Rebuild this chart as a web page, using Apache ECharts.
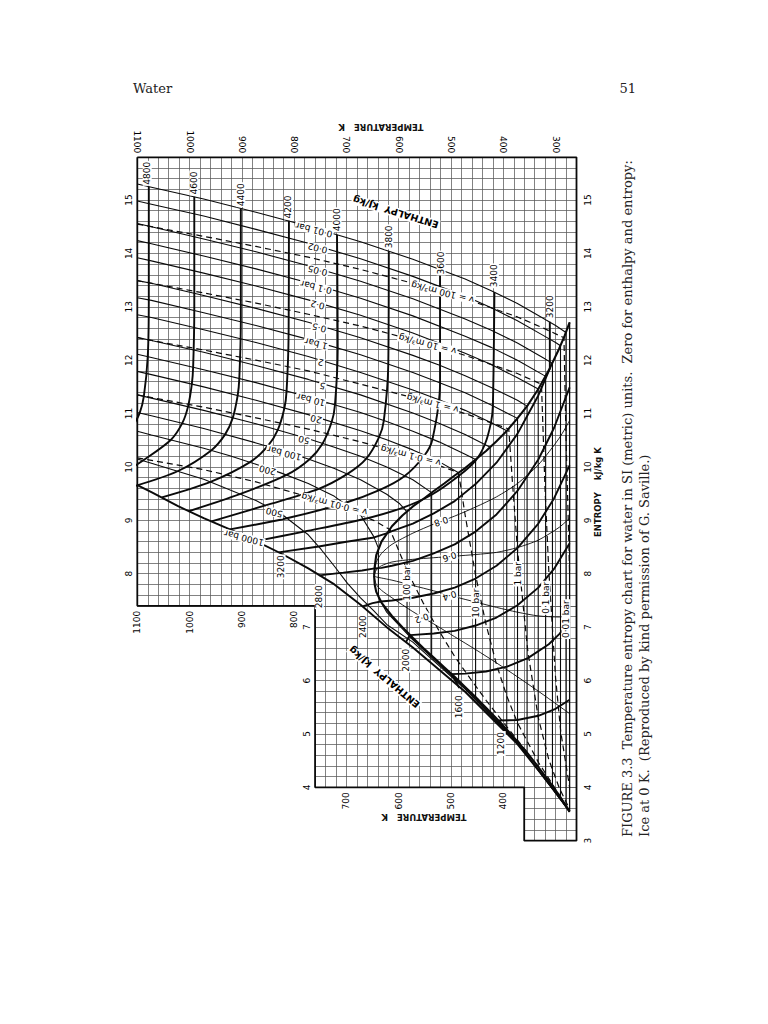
<!DOCTYPE html>
<html><head><meta charset="utf-8">
<script src="https://cdn.jsdelivr.net/npm/echarts@6/dist/echarts.min.js"></script>
<style>html,body{margin:0;padding:0;background:#fff}#c{width:768px;height:1024px}</style>
</head><body><div id="c"></div>
<script>
// ---------- axis ticks ----------
const tTicksTop = [1100,1000,900,800,700,600,500,400,300];
const tTicksStepA = [1100,1000,900,800];
const tTicksStepB = [700,600,500,400];
const sTicksRight = [3,4,5,6,7,8,9,10,11,12,13,14,15];
const sTicksLeftA = [8,9,10,11,12,13,14,15];
const sTicksLeftB = [4,5,6,7];
// chart frame outline [T K, s kJ/kg K]
const frameOutline = [[1100,15.8],[260,15.8],[260,3],[360,3],[360,4],[760,4],[760,7.4],[1100,7.4],[1100,15.8]];

// ---------- saturation ----------
const satLiquid = [[273.16,3.55],[293,3.85],[313,4.12],[333,4.38],[353,4.63],[373,4.86],[393,5.08],[413,5.29],[433,5.49],[453,5.69],[473,5.88],[493,6.07],[513,6.25],[533,6.43],[553,6.61],[573,6.80],[593,7.00],[613,7.21],[633,7.46],[643,7.66],[646,7.80],[647.1,7.96]];
const satVapour = [[647.1,7.96],[646,8.13],[643,8.35],[633,8.60],[613,8.89],[593,9.09],[573,9.26],[553,9.40],[533,9.55],[513,9.69],[493,9.84],[473,9.98],[453,10.14],[433,10.30],[413,10.48],[393,10.68],[373,10.91],[353,11.16],[333,11.46],[313,11.81],[293,12.22],[283,12.45],[273.16,12.71]];
const tripleLine = [[273.16,3.55],[273.16,12.71]];

// ---------- isobars ----------
const p0_01 = [[1100,15.30],[1073,15.24],[973,15.02],[873,14.77],[773,14.51],[673,14.22],[573,13.89],[473,13.52],[423,13.30],[373,13.06],[323,12.78],[300,12.65],[280.1,12.52],[280.1,3.66]];
const p0_02 = [[1100,14.98],[1073,14.92],[973,14.70],[873,14.45],[773,14.19],[673,13.90],[573,13.57],[473,13.20],[423,12.98],[373,12.74],[323,12.46],[300,12.33],[290.6,12.27],[290.6,3.81]];
const p0_05 = [[1100,14.56],[1073,14.50],[973,14.27],[873,14.03],[773,13.77],[673,13.48],[573,13.15],[473,12.77],[423,12.56],[373,12.32],[323,12.04],[306,11.94],[306,4.03]];
const p0_1 = [[1100,14.24],[1073,14.18],[973,13.95],[873,13.71],[773,13.45],[673,13.16],[573,12.83],[473,12.45],[423,12.24],[373,12.00],[323,11.72],[319,11.70],[319,4.20]];
const p0_2 = [[1100,13.92],[1073,13.86],[973,13.63],[873,13.39],[773,13.13],[673,12.84],[573,12.51],[473,12.13],[423,11.92],[373,11.67],[333.2,11.46],[333.2,4.38]];
const p0_5 = [[1100,13.49],[1073,13.44],[973,13.21],[873,12.97],[773,12.71],[673,12.42],[573,12.09],[523,11.91],[473,11.71],[423,11.49],[373,11.25],[354.5,11.14],[354.5,4.64]];
const p1 = [[1100,13.17],[1073,13.12],[973,12.89],[873,12.65],[773,12.39],[673,12.10],[573,11.77],[523,11.58],[473,11.39],[423,11.16],[372.8,10.91],[372.8,4.85]];
const p2 = [[1100,12.85],[1073,12.80],[973,12.57],[873,12.33],[773,12.07],[673,11.77],[573,11.44],[523,11.26],[473,11.06],[423,10.83],[393.4,10.68],[393.4,5.08]];
const p5 = [[1100,12.43],[1073,12.37],[973,12.15],[873,11.90],[773,11.64],[673,11.35],[573,11.01],[523,10.82],[473,10.61],[425,10.37],[425,5.41]];
const p10 = [[1100,12.11],[1073,12.05],[973,11.82],[873,11.58],[773,11.31],[673,11.02],[623,10.85],[573,10.67],[523,10.47],[473,10.24],[453,10.14],[453,5.69]];
const p20 = [[1100,11.79],[1073,11.73],[973,11.50],[873,11.25],[773,10.98],[673,10.68],[623,10.51],[573,10.32],[523,10.10],[485.5,9.89],[485.5,6.00]];
const p50 = [[1100,11.35],[1073,11.29],[973,11.06],[873,10.81],[773,10.53],[723,10.37],[673,10.20],[623,10.00],[573,9.76],[537.1,9.52],[537.1,6.47]];
const p100 = [[1100,11.02],[1073,10.96],[973,10.72],[873,10.45],[823,10.31],[773,10.15],[723,9.97],[673,9.76],[623,9.49],[598,9.31],[584.1,9.16],[584.1,6.91],[573,6.78],[473,5.87],[373,4.85],[273.16,3.55]];
const p200 = [[1100,10.67],[1073,10.60],[973,10.35],[923,10.21],[873,10.05],[823,9.88],[773,9.69],[723,9.45],[673,9.10],[648,8.70],[638.9,8.48],[638.9,7.56],[623,7.28],[573,6.76],[473,5.85],[373,4.84],[273.16,3.55]];
const p500 = [[1100,10.15],[1073,10.07],[973,9.77],[873,9.37],[823,9.11],[773,8.73],[748,8.45],[723,8.14],[698,7.82],[673,7.55],[648,7.31],[623,7.05],[573,6.72],[473,5.84],[373,4.83],[273.16,3.54]];
const p1000 = [[1100,9.66],[1073,9.53],[1023,9.27],[973,9.04],[923,8.83],[873,8.61],[823,8.37],[773,8.10],[723,7.80],[673,7.42],[623,7.00],[573,6.62],[473,5.79],[373,4.81],[293,3.83],[273.16,3.54]];

// ---------- isenthalps (kJ/kg) ----------
const h1200 = [[395,5.01],[400.6,5.15],[409,5.25],[373,5.26],[333,5.34],[300,5.47],[273.16,5.64]];
const h1600 = [[484,5.86],[492,6.00],[499,6.12],[473,6.13],[433,6.17],[393,6.26],[353,6.42],[313,6.68],[293,6.87],[273.16,7.10]];
const h2000 = [[586,6.72],[582,6.80],[578,6.85],[533,6.88],[493,6.93],[453,7.03],[413,7.18],[373,7.41],[333,7.74],[303,8.09],[273.16,8.57]];
const h2400 = [[669,7.39],[650,7.45],[634,7.48],[613,7.50],[573,7.55],[533,7.63],[493,7.74],[453,7.91],[413,8.15],[373,8.48],[333,8.94],[303,9.41],[273.16,10.03]];
const h2800 = [[752,7.97],[706,8.02],[670,8.06],[646,8.10],[633,8.11],[613,8.15],[573,8.24],[533,8.38],[493,8.55],[453,8.79],[413,9.11],[373,9.55],[333,10.14],[303,10.73],[273.16,11.49]];
const h3200 = [[311,12.72],[311,11.84],[333,11.34],[373,10.62],[413,10.08],[453,9.68],[493,9.36],[533,9.13],[573,8.94],[613,8.80],[622,8.76],[647,8.68],[700,8.60],[753,8.51],[830,8.40]];
const h3400 = [[417,13.27],[420,11.14],[423.6,10.83],[435,10.43],[453,10.12],[485.5,9.83],[537,9.48],[591.6,9.24],[668,9.02],[781,8.79],[873,8.61]];
const h3600 = [[521,13.70],[521,11.57],[535.5,10.52],[550.6,10.22],[588.6,9.83],[636,9.57],[704.5,9.32],[814,9.04],[923,8.83]];
const h3800 = [[619,14.04],[620,11.92],[628.5,10.87],[637.6,10.56],[662.5,10.15],[698,9.87],[753,9.59],[855,9.28],[958,8.98]];
const h4000 = [[718,14.35],[716.7,12.22],[722,11.16],[728,10.85],[745.5,10.44],[771,10.14],[814.5,9.85],[904,9.49],[1002,9.17]];
const h4200 = [[810,14.61],[810.6,12.49],[814.5,11.42],[818.7,11.10],[831.5,10.69],[850.5,10.39],[884.4,10.09],[960,9.72],[1053,9.43]];
const h4400 = [[902,14.84],[902,12.72],[904.9,11.66],[908,11.34],[917.4,10.92],[932,10.61],[958.7,10.31],[1023,9.92],[1106,9.64]];
const h4600 = [[991,15.06],[991,12.93],[993.2,11.87],[995.7,11.55],[1003,11.13],[1014,10.82],[1035.5,10.51],[1089,10.12],[1112,9.98]];
const h4800 = [[1078,15.25],[1078,13.13],[1080,12.07],[1087.5,11.32],[1095.5,11.01],[1113,10.68]];

// ---------- dryness fraction ----------
const x02 = [[647.1,7.96],[643,7.80],[633,7.69],[613,7.55],[573,7.29],[533,7.06],[493,6.82],[453,6.58],[413,6.33],[373,6.07],[333,5.80],[293,5.52],[273.16,5.38]];
const x04 = [[647.1,7.96],[643,7.94],[633,7.92],[613,7.88],[573,7.78],[533,7.68],[493,7.57],[453,7.47],[413,7.37],[373,7.28],[333,7.21],[293,7.19],[273.16,7.21]];
const x06 = [[647.1,7.96],[643,8.07],[633,8.15],[613,8.22],[573,8.27],[533,8.30],[493,8.33],[453,8.36],[413,8.40],[373,8.49],[333,8.63],[293,8.87],[273.16,9.04]];
const x08 = [[647.1,7.96],[643,8.21],[633,8.38],[613,8.55],[573,8.76],[533,8.93],[493,9.08],[453,9.25],[413,9.44],[373,9.69],[333,10.04],[293,10.54],[273.16,10.87]];

// ---------- specific volume (m3/kg) ----------
const v100 = [[1100,14.55],[973,14.32],[873,14.13],[773,13.93],[673,13.70],[573,13.44],[473,13.15],[373,12.81],[323,12.60],[284,12.42],[280,10.53],[276,9.09],[273.16,7.99]];
const v10 = [[1100,13.49],[973,13.26],[873,13.07],[773,12.86],[673,12.64],[573,12.38],[473,12.09],[373,11.75],[327,11.55],[320,9.54],[313,8.06],[300,6.05],[290,5.03],[273.16,4.00]];
const v1 = [[1100,12.42],[973,12.19],[873,12.00],[773,11.80],[673,11.55],[573,11.30],[473,11.00],[389.5,10.71],[383,9.78],[373,8.47],[353,6.54],[333,5.30],[313,4.52],[293,3.99],[273.16,3.59]];
const v0_1 = [[1100,11.35],[973,11.12],[873,10.92],[773,10.71],[673,10.47],[573,10.20],[523,10.03],[485.5,9.89],[473,9.10],[453,7.97],[433,7.05],[413,6.30],[393,5.70],[373,5.21],[333,4.47],[293,3.86]];
const v0_01 = [[1100,10.17],[973,9.95],[873,9.72],[773,9.44],[723,9.30],[673,9.10],[648,9.00],[617,8.83],[613,8.74],[593,8.27],[573,7.84],[553,7.45],[533,7.10],[513,6.77],[493,6.45],[473,6.17],[433,5.63],[393,5.13],[353,4.64]];

// ---------- labels [T, s, text] ----------
const enthalpyTopLabels = [[1081,15.50,'4800'],[992,15.32,'4600'],[902,15.10,'4400'],[811,14.87,'4200'],[718,14.63,'4000'],[619,14.31,'3800'],[519,13.82,'3600'],[417,13.58,'3400'],[310,13.00,'3200']];
const enthalpyLowLabels = [[404,4.82,'1200'],[484,5.51,'1600'],[586,6.38,'2000'],[669,7.01,'2400'],[752,7.57,'2800'],[825,8.13,'3200']];
const isobarLabels = [[762,14.44,'0·01 bar'],[755,14.10,'0·02'],[755,13.68,'0·05'],[758,13.37,'0·1 bar'],[755,13.04,'0·2'],[752,12.61,'0·5'],[758,12.31,'1 bar'],[749,11.96,'2'],[746,11.52,'5'],[768,11.26,'10 bar'],[758,10.90,'20'],[781,10.51,'50'],[819,10.26,'100 bar'],[851,9.94,'200'],[838,9.15,'500'],[896,8.67,'1000 bar']];
const volumeLabels = [[516,13.27,'v = 100 m³/kg'],[545,12.30,'v = 10 m³/kg'],[535,11.19,'v = 1 m³/kg'],[577,10.21,'v = 0·1 m³/kg'],[723,9.30,'v = 0·01 m³/kg']];
const qualityLabels = [[519,8.98,'0·8'],[503,8.32,'0·6'],[503,7.59,'0·4'],[556,7.17,'0·2']];
const wetIsobarLabels = [[584.1,7.82,'100 bar'],[453,7.45,'10 bar'],[372.8,8.0,'1 bar'],[319,7.55,'0·1 bar'],[280.1,7.15,'0·01 bar']];
const enthalpyTitles = [[606,14.77,'ENTHALPY  kJ/kg',163],[628,6.06,'ENTHALPY  kJ/kg',140]];

// ---------- layout ----------
const gL = 137.3, gR = 576.5, gT = 157.3, gB = 840.7;
const tMin = 260, tMax = 1100, sMin = 3, sMax = 15.8;
const px = T => gL + (tMax - T) / (tMax - tMin) * (gR - gL);
const py = s => gT + (sMax - s) / (sMax - sMin) * (gB - gT);
const f = frameOutline;
const regionA = {t0: tMin, t1: f[0][0], s0: f[6][1], s1: sMax};
const regionB = {t0: tMin, t1: f[5][0], s0: f[4][1], s1: f[6][1]};
const regionC = {t0: tMin, t1: f[3][0], s0: sMin, s1: f[4][1]};
function regionGrid(r) {
  return {left: px(r.t1), top: py(r.s1), width: gR - px(r.t1), height: py(r.s0) - py(r.s1)};
}
const gridLine = {show: true, lineStyle: {color: '#585858', width: 0.75}};
const lblFont = {fontSize: 9, fontFamily: 'DejaVu Sans', color: '#000'};
function axLab(vals, rot, margin) {
  return Object.assign({show: !!vals, customValues: vals || [], rotate: rot, margin: margin,
    formatter: v => String(v)}, lblFont);
}
function xAx(grid, r, pos, vals, interval, margin) {
  return {type: 'value', gridIndex: grid, min: r.t0, max: r.t1, inverse: true, position: pos,
    interval: interval, axisLine: {show: false}, axisTick: {show: false},
    splitLine: interval ? gridLine : {show: false}, axisLabel: axLab(vals, 90, margin)};
}
function yAx(grid, r, pos, vals, interval, margin) {
  return {type: 'value', gridIndex: grid, min: r.s0, max: r.s1, position: pos,
    interval: interval, axisLine: {show: false}, axisTick: {show: false},
    splitLine: interval ? gridLine : {show: false}, axisLabel: axLab(vals, 90, margin)};
}
const full = {t0: tMin, t1: tMax, s0: sMin, s1: sMax};

function line(data, w, dashed, z, smooth) {
  return {type: 'line', xAxisIndex: 0, yAxisIndex: 0, data: data, showSymbol: false, symbol: 'none',
    silent: true, z: z || 3, animation: false, smooth: smooth || false,
    lineStyle: {color: '#0a0a0a', width: w, type: dashed ? [6, 4] : 'solid'}};
}
function texts(items, rot, extra) {
  return {type: 'scatter', xAxisIndex: 0, yAxisIndex: 0, symbolSize: 1, silent: true, z: 10, animation: false,
    itemStyle: {color: 'rgba(0,0,0,0)'},
    data: items.map(d => {
      const it = {value: [d[0], d[1]], name: d[2]};
      if (d[3] !== undefined) it.label = {rotate: d[3]};
      return it;
    }),
    label: Object.assign({show: true, position: 'inside', rotate: rot, formatter: '{b}',
      backgroundColor: '#fff', padding: [0, 1], opacity: 1}, lblFont, extra || {})};
}

const series = [];
[p0_01, p0_02, p0_05, p0_1, p0_2, p0_5, p1, p2, p5, p10, p20, p50, p100, p200, p500].forEach(d => series.push(line(d, 1.1)));
series.push(line(p1000, 1.9, false, 4));
[x02, x04, x06, x08].forEach(d => series.push(line(d, 0.9, false, 3, 0.25)));
[v100, v10, v1, v0_1, v0_01].forEach(d => series.push(line(d, 1.2, true)));
[h1200, h1600, h2000, h2400, h2800, h3200].forEach(d => series.push(line(d, 1.9, false, 4)));
[h3400, h3600, h3800, h4000, h4200, h4400, h4600, h4800].forEach(d => series.push(line(d, 1.9, false, 4, 0.3)));
series.push(line(satLiquid, 2.1, false, 5));
series.push(line(satVapour, 2.1, false, 5));
series.push(line(tripleLine, 1.3, false, 4));
const frameSeries = line(frameOutline, 1.8, false, 6);
frameSeries.clip = false;
series.push(frameSeries);
series.push(texts(enthalpyTopLabels, 90));
series.push(texts(enthalpyLowLabels, 90));
series.push(texts(isobarLabels, 166));
series.push(texts(volumeLabels, 166));
series.push(texts(qualityLabels, 198));
series.push(texts(wetIsobarLabels, 90));
series.push(texts(enthalpyTitles, 0, {fontWeight: 'bold', fontSize: 9.5}));

const serif = '"DejaVu Serif", "Liberation Serif", serif';
const option = {
  animation: false,
  backgroundColor: '#fff',
  grid: [
    {left: gL, top: gT, width: gR - gL, height: gB - gT},
    regionGrid(regionA), regionGrid(regionB), regionGrid(regionC)
  ],
  xAxis: [
    xAx(0, full, 'top', tTicksTop, null, 4),
    xAx(1, regionA, 'bottom', tTicksStepA, 20, 5),
    xAx(2, regionB, 'bottom', tTicksStepB, 20, 5),
    xAx(3, regionC, 'bottom', null, 20, 5)
  ],
  yAxis: [
    yAx(0, full, 'right', sTicksRight, null, 7),
    yAx(1, regionA, 'left', sTicksLeftA, 0.2, 4),
    yAx(2, regionB, 'left', sTicksLeftB, 0.2, 4),
    yAx(3, regionC, 'left', null, 0.2, 4)
  ],
  series: series,
  graphic: [
    {type: 'text', x: 133, y: 88, style: {text: 'Water', font: '13px ' + serif, fill: '#222', textVerticalAlign: 'middle'}},
    {type: 'text', x: 636, y: 88, style: {text: '51', font: '13px ' + serif, fill: '#222', textAlign: 'right', textVerticalAlign: 'middle'}},
    {type: 'text', x: 381, y: 127, rotation: Math.PI, style: {text: 'TEMPERATURE   K', font: 'bold 8.5px "DejaVu Sans"', fill: '#111', textAlign: 'center', textVerticalAlign: 'middle'}},
    {type: 'text', x: 424, y: 817, rotation: Math.PI, style: {text: 'TEMPERATURE   K', font: 'bold 8.5px "DejaVu Sans"', fill: '#111', textAlign: 'center', textVerticalAlign: 'middle'}},
    {type: 'text', x: 598, y: 492, rotation: Math.PI / 2, style: {text: 'ENTROPY    kJ/kg K', font: 'bold 8.5px "DejaVu Sans"', fill: '#111', textAlign: 'center', textVerticalAlign: 'middle'}},
    {type: 'text', x: 627, y: 837, rotation: Math.PI / 2, style: {text: 'FIGURE 3.3  Temperature entropy chart for water in SI (metric) units.  Zero for enthalpy and entropy:', font: '13px ' + serif, fill: '#222', textAlign: 'left', textVerticalAlign: 'middle'}},
    {type: 'text', x: 644, y: 837, rotation: Math.PI / 2, style: {text: 'Ice at 0 K.  (Reproduced by kind permission of G. Saville.)', font: '13px ' + serif, fill: '#222', textAlign: 'left', textVerticalAlign: 'middle'}}
  ]
};
const chart = echarts.init(document.getElementById('c'), null, {renderer: 'svg'});
chart.setOption(option);
</script></body></html>
